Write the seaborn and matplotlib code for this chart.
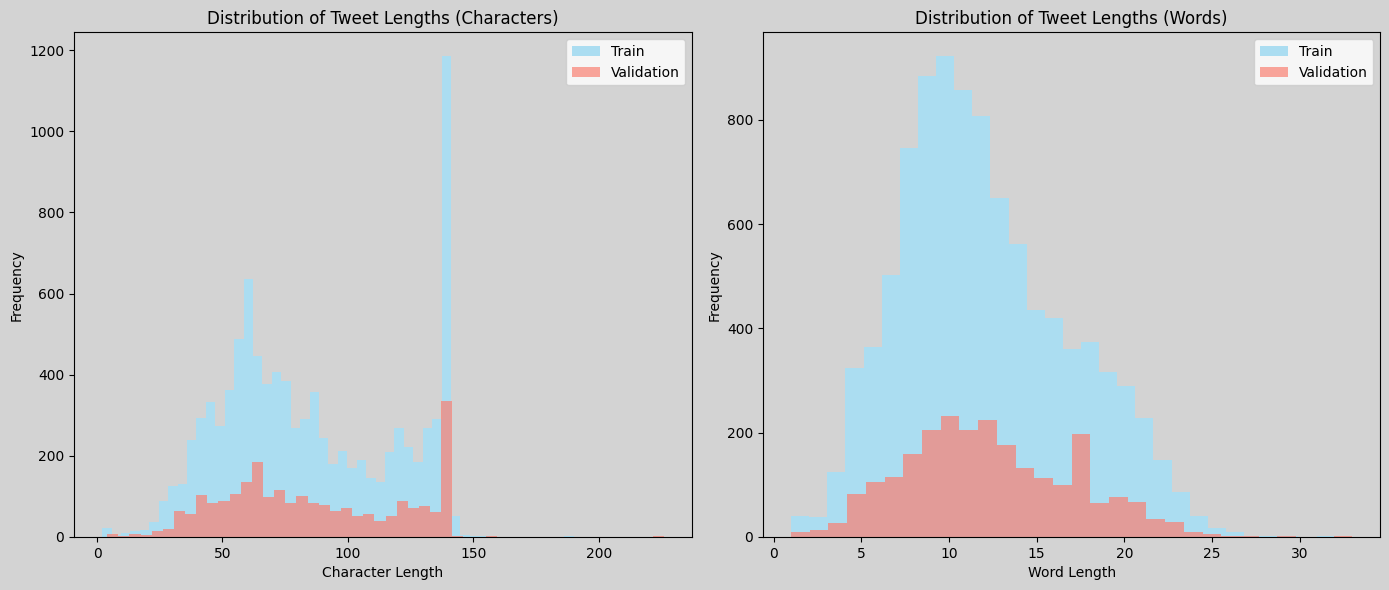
import numpy as np
import pandas as pd
import matplotlib
matplotlib.use('Agg')
import matplotlib.pyplot as plt
import seaborn as sns

plt.style.use('default')

# 글자 수 히스토그램 (50 bins)
char_train_range = (2, 190)
char_train_counts = [22, 5, 11, 16, 18, 38, 89, 125, 131, 238,
                     293, 333, 274, 362, 489, 635, 447, 377, 406, 384,
                     268, 291, 357, 243, 180, 212, 169, 189, 146, 136,
                     209, 268, 222, 185, 268, 291, 1185, 52, 4, 2,
                     2, 0, 0, 0, 1, 0, 0, 0, 0, 2]
char_val_range = (4, 226)
char_val_counts = [8, 3, 8, 6, 16, 20, 65, 57, 104, 84,
                   89, 107, 136, 185, 99, 116, 84, 102, 84, 80,
                   65, 72, 52, 57, 40, 52, 89, 72, 77, 62,
                   335, 3, 1, 0, 2, 0, 0, 0, 0, 0,
                   0, 0, 0, 0, 0, 0, 0, 0, 0, 2]

# 단어 수 히스토그램 (30 bins)
word_train_range = (1, 32)
word_train_counts = [41, 38, 125, 325, 364, 502, 746, 884, 922, 858,
                     808, 650, 562, 435, 420, 360, 375, 316, 289, 228,
                     148, 86, 41, 18, 10, 2, 2, 1, 0, 2]
word_val_range = (1, 33)
word_val_counts = [10, 13, 27, 82, 105, 115, 159, 206, 233, 206,
                   224, 176, 132, 114, 99, 198, 66, 76, 68, 34,
                   29, 9, 5, 1, 1, 0, 2, 0, 0, 1]

train_color = '#abddf1'
val_color = 'salmon'


def draw_hist(ax, rng, counts, color, alpha, label):
    edges = np.linspace(rng[0], rng[1], len(counts) + 1)
    df = pd.DataFrame({'length': (edges[:-1] + edges[1:]) / 2, 'count': counts})
    sns.histplot(data=df, x='length', weights='count', bins=list(edges), color=color,
                 alpha=alpha, linewidth=0, edgecolor='none', label=label, ax=ax)


fig, axes = plt.subplots(1, 2, figsize=(13.89, 5.9), dpi=100)
fig.patch.set_facecolor('lightgray')

ax = axes[0]
ax.set_facecolor('lightgray')
draw_hist(ax, char_train_range, char_train_counts, train_color, 1.0, 'Train')
draw_hist(ax, char_val_range, char_val_counts, val_color, 0.7, 'Validation')
ax.set_title('Distribution of Tweet Lengths (Characters)')
ax.set_xlabel('Character Length')
ax.set_ylabel('Frequency')
ax.legend(loc='upper right')

ax = axes[1]
ax.set_facecolor('lightgray')
draw_hist(ax, word_train_range, word_train_counts, train_color, 1.0, 'Train')
draw_hist(ax, word_val_range, word_val_counts, val_color, 0.7, 'Validation')
ax.set_title('Distribution of Tweet Lengths (Words)')
ax.set_xlabel('Word Length')
ax.set_ylabel('Frequency')
ax.legend(loc='upper right')

# 원본과 같은 여백으로 배치
axes[0].set_position([74 / 1389, 53 / 590, 618 / 1389, 504.7 / 590])
axes[1].set_position([763 / 1389, 53 / 590, 617.3 / 1389, 504.7 / 590])

plt.savefig('out.png', facecolor=fig.get_facecolor())
